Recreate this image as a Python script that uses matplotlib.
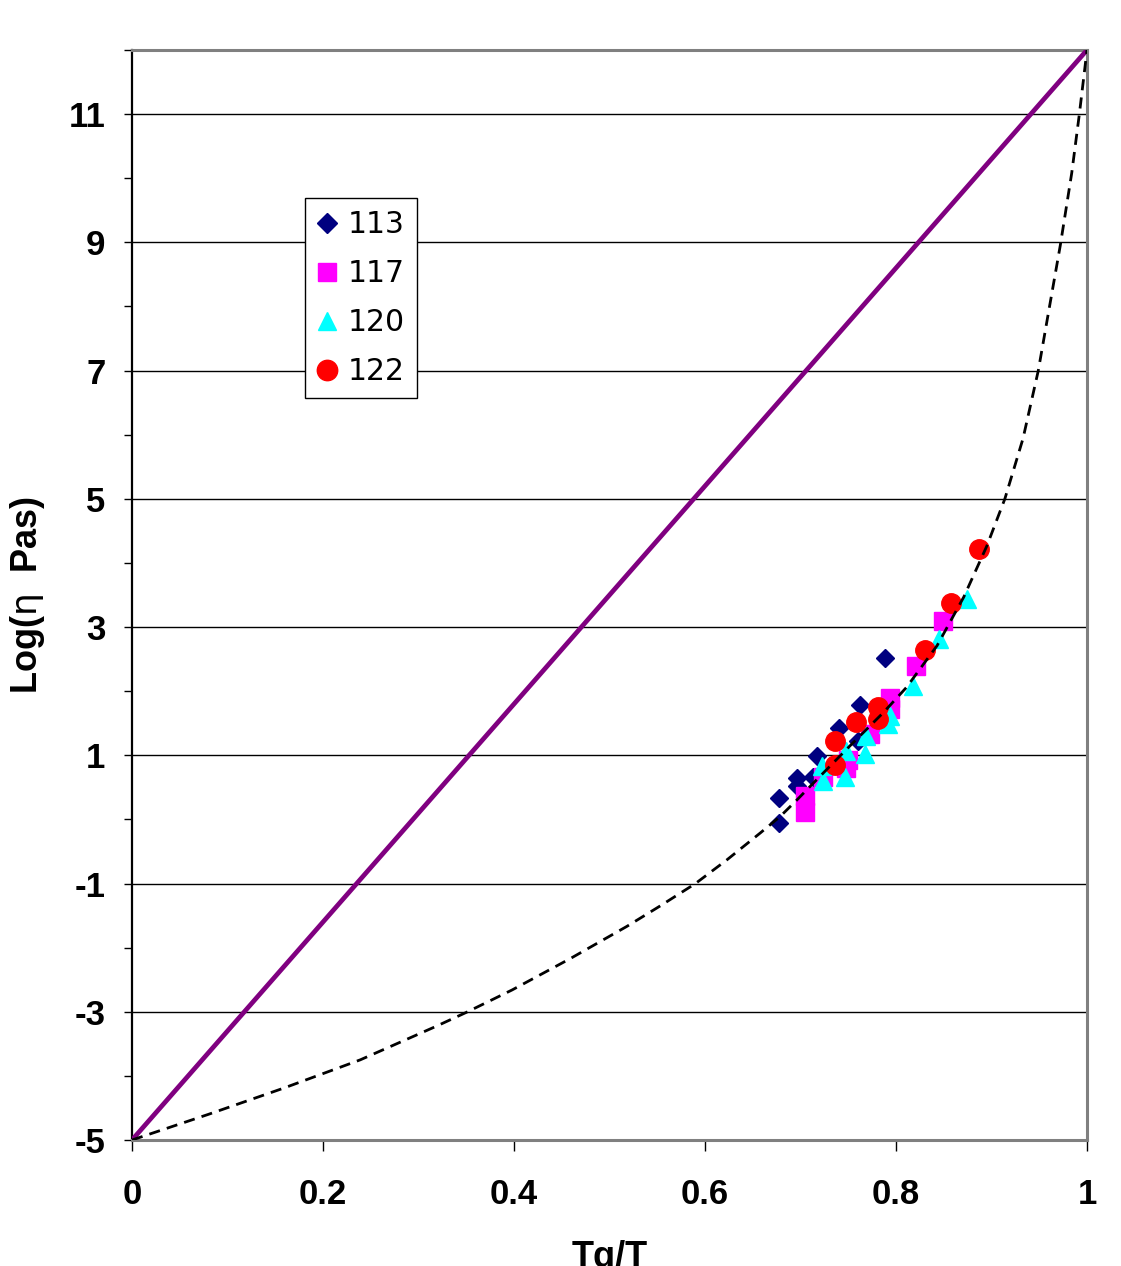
import matplotlib
matplotlib.use("Agg")
import matplotlib.pyplot as plt
import numpy as np

# ---- data ----
x113 = [0.788, 0.762, 0.740, 0.760, 0.717, 0.696, 0.696, 0.713, 0.677, 0.677]
y113 = [2.51, 1.78, 1.43, 1.22, 0.99, 0.65, 0.52, 0.66, 0.34, -0.05]

x117 = [0.849, 0.821, 0.794, 0.794, 0.773, 0.750, 0.748, 0.724, 0.705, 0.705]
y117 = [3.10, 2.39, 1.90, 1.72, 1.33, 0.92, 0.80, 0.66, 0.37, 0.11]

x120 = [0.874, 0.845, 0.818, 0.794, 0.792, 0.769, 0.768, 0.748, 0.747, 0.724, 0.722]
y120 = [3.43, 2.82, 2.08, 1.62, 1.49, 1.30, 1.02, 1.07, 0.66, 0.60, 0.84]

x122 = [0.887, 0.858, 0.830, 0.781, 0.781, 0.758, 0.736, 0.736]
y122 = [4.21, 3.37, 2.64, 1.76, 1.56, 1.52, 1.23, 0.85]

# strong-liquid reference line
x_line = [0.0, 1.0]
y_line = [-5.0, 12.0]

# fitted fragile curve
x_fit = [0.0, 0.080, 0.159, 0.239, 0.318, 0.350, 0.398, 0.459, 0.518, 0.553,
         0.590, 0.623, 0.658, 0.679, 0.696, 0.717, 0.752, 0.787, 0.811, 0.843,
         0.871, 0.895, 0.914, 0.933, 0.949, 0.961, 0.972, 0.984, 0.992, 1.000]
y_fit = [-5.0, -4.60, -4.19, -3.75, -3.23, -3.01, -2.66, -2.17, -1.67, -1.35,
         -1.00, -0.63, -0.21, 0.05, 0.30, 0.62, 1.15, 1.67, 2.06, 2.71,
         3.47, 4.26, 5.00, 5.94, 7.00, 8.02, 8.95, 10.08, 11.00, 12.00]

series_labels = ["113", "117", "120", "122"]
xticks = [0, 0.2, 0.4, 0.6, 0.8, 1]
xtick_labels = ["0", "0.2", "0.4", "0.6", "0.8", "1"]
yticks_major = [-5, -3, -1, 1, 3, 5, 7, 9, 11]

W, H = 1121, 1266
fig = plt.figure(figsize=(W / 100, H / 100), dpi=100)
ax = fig.add_axes([132 / W, 1 - 1140 / H, (1087 - 132) / W, (1140 - 50) / H])

lab_font = "Liberation Sans"

ax.set_xlim(0, 1)
ax.set_ylim(-5, 12)

for yv in yticks_major:
    ax.axhline(yv, color="black", lw=1.0, zorder=1)

ax.plot(x_line, y_line, color="#800080", lw=3.4, zorder=3, solid_capstyle="butt")

ax.plot(x113, y113, ls="none", marker="D", ms=9.5, color="#000080", label=series_labels[0], zorder=4)
ax.plot(x117, y117, ls="none", marker="s", ms=13, color="#FF00FF", label=series_labels[1], zorder=5)
ax.plot(x120, y120, ls="none", marker="^", ms=13, color="#00FFFF", label=series_labels[2], zorder=6)
ax.plot(x122, y122, ls="none", marker="o", ms=14, color="#FF0000", label=series_labels[3], zorder=7)

ax.plot(x_fit, y_fit, color="black", lw=2.0, ls=(0, (4, 2.6)), zorder=8)

# spines
for s in ["top", "right", "bottom"]:
    ax.spines[s].set_color("#808080")
    ax.spines[s].set_linewidth(2.2)
ax.spines["left"].set_color("black")
ax.spines["left"].set_linewidth(1.6)
for s in ax.spines.values():
    s.set_zorder(2)

ax.set_xticks(xticks)
ax.set_xticklabels(xtick_labels)
ax.set_yticks(yticks_major)
ax.set_yticklabels([str(v) for v in yticks_major])
ax.set_yticks(np.arange(-4, 13, 2), minor=True)
ax.tick_params(axis="x", direction="out", length=8, width=1, pad=19, labelsize=25)
ax.tick_params(axis="y", which="both", direction="out", length=6, width=1, pad=13, labelsize=25)
for t in ax.get_xticklabels() + ax.get_yticklabels():
    t.set_fontfamily(lab_font)
    t.set_fontweight("bold")

ax.set_xlabel("Tg/T", fontfamily=lab_font, fontweight="bold", fontsize=26, va="top")
ax.xaxis.set_label_coords(0.5, -0.0915)
ax.set_ylabel(r"Log($\mathrm{\eta}$  Pas)", fontfamily=lab_font, fontweight="bold",
              fontsize=26, va="center")
ax.yaxis.set_label_coords(-0.109, 0.5)

leg = ax.legend(loc="upper left", bbox_to_anchor=(0.181, 0.864), borderaxespad=0,
                frameon=True, fancybox=False, edgecolor="black", framealpha=1,
                prop={"family": "DejaVu Sans", "size": 21.5}, handlelength=0.67,
                handletextpad=0.37, labelspacing=0.67, borderpad=0.4, markerscale=1.05)
leg.get_frame().set_linewidth(1.0)

fig.savefig("out.png", dpi=100)
